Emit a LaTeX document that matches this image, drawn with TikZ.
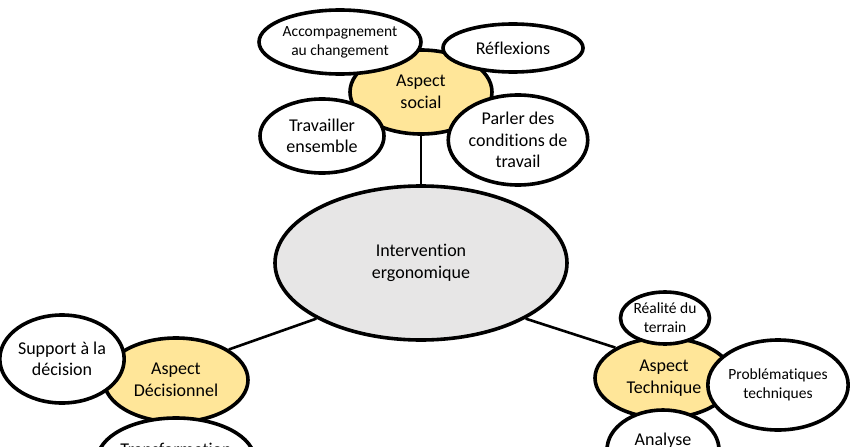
\documentclass[tikz,border=0pt]{standalone}
\usepackage{fontspec}
\setmainfont[Ligatures=NoCommon]{Carlito}
\usetikzlibrary{shapes.geometric}

\definecolor{aspectyellow}{HTML}{FFE699}
\definecolor{centregrey}{HTML}{E7E6E6}

\begin{document}
\begin{tikzpicture}[
x=1pt, y=-1pt,
bubble/.style={
draw,
ellipse,
line width=3.6pt,
fill=white,
align=center,
inner sep=0pt,
font=\fontsize{18}{21.5}\selectfont
},
smalltext/.style={font=\fontsize{15.5}{19}\selectfont},
aspect/.style={bubble, fill=aspectyellow},
centre/.style={bubble, fill=centregrey},
line/.style={line width=2.6pt}
]

\useasboundingbox (0,0) rectangle (852,447);
\clip (0,0) rectangle (852,447);

\node[centre, minimum width=292, minimum height=154] (interv) at (421,263)
{Intervention\\ergonomique};

% social
\node[aspect, minimum width=142, minimum height=84] (social) at (421,92)
{\raisebox{-3pt}{Aspect}\\\raisebox{-3pt}{social}};
\node[bubble, smalltext, minimum width=146, minimum height=64] (accomp) at (340,42)
{Accompagnement\\au changement};
\node[bubble, minimum width=140, minimum height=48] (reflex) at (513,48)
{Réflexions};
\node[bubble, minimum width=124, minimum height=74] (travail) at (322,136)
{Travailler\\ensemble};
\node[bubble, minimum width=136, minimum height=90] (parler) at (518,140)
{Parler des\\conditions de\\travail};

% decisionnel
\node[aspect, minimum width=144, minimum height=84] (decision) at (176,380)
{Aspect\\Décisionnel};
\node[bubble, minimum width=120, minimum height=88] (support) at (62,359)
{Support à la\\décision};
\node[bubble, minimum width=136, minimum height=84] (transfo) at (176,460)
{Transformation\\\mbox{}};

% technique
\node[aspect, minimum width=138, minimum height=80] (technique) at (664,378)
{Aspect\\Technique};
\node[bubble, smalltext, minimum width=86, minimum height=52] (realite) at (665,318)
{Réalité du\\terrain};
\node[bubble, smalltext, minimum width=120, minimum height=90] (problem) at (778,385)
{Problématiques\\techniques};
\node[bubble, minimum width=112, minimum height=80] (analyse) at (663,450)
{Analyse\\\mbox{}};

% lines
\draw[line] (social.south) -- (interv.north);
\draw[line] (interv.208) -- (decision.30);
\draw[line] (interv.332) -- (technique.148);

\end{tikzpicture}
\end{document}
